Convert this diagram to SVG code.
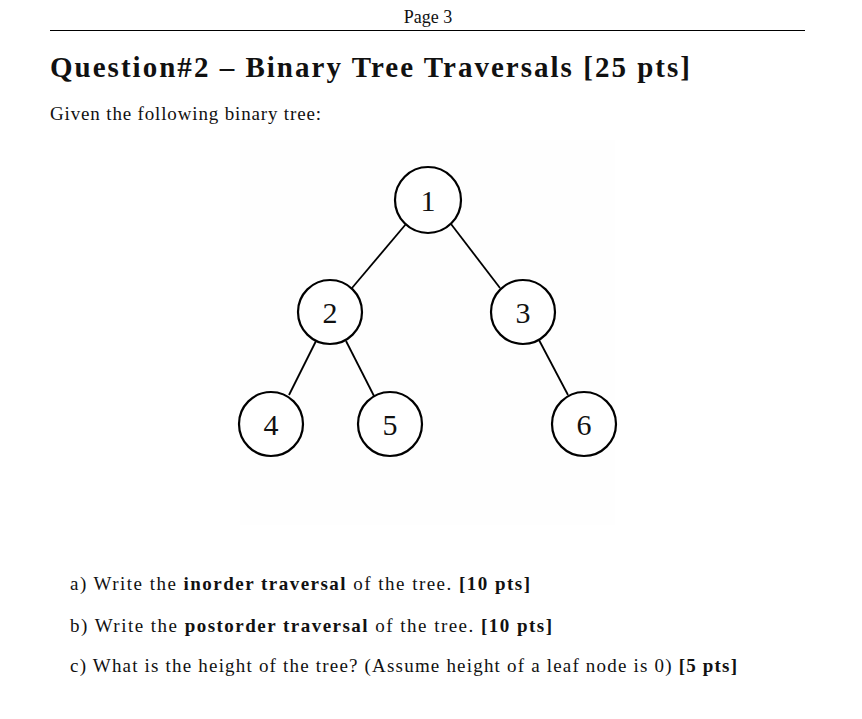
<svg xmlns="http://www.w3.org/2000/svg" width="862" height="719" viewBox="0 0 862 719">
<style>
text{font-family:"Liberation Serif","DejaVu Serif",serif;fill:#111}
.n circle{fill:#fff;stroke:#000;stroke-width:2.2}
.n text{font-size:30px;text-anchor:middle}
.e line{stroke:#000;stroke-width:1.8}
.q{font-size:19px}
</style>
<rect width="862" height="719" fill="#fff"/>
<rect x="240" y="140" width="375" height="385" fill="#fefefe"/>
<text x="428" y="23" font-size="18" text-anchor="middle">Page 3</text>
<line x1="50" y1="30.5" x2="805" y2="30.5" stroke="#000" stroke-width="1"/>
<text x="50" y="77" font-size="29" font-weight="bold" textLength="640" lengthAdjust="spacing">Question#2 – Binary Tree Traversals [25 pts]</text>
<text x="50" y="120" font-size="19" textLength="271" lengthAdjust="spacing">Given the following binary tree:</text>
<g id="connectors" class="e">
<line x1="406" y1="224" x2="352" y2="288"/>
<line x1="451" y1="224" x2="500" y2="288"/>
<line x1="316" y1="341" x2="289" y2="395"/>
<line x1="346" y1="341" x2="374" y2="396"/>
<line x1="539" y1="340" x2="568" y2="395"/>
</g>
<g id="n1" class="n"><circle cx="428" cy="200" r="33"/><text x="428" y="211">1</text></g>
<g id="n2" class="n"><circle cx="330" cy="312" r="32"/><text x="330" y="323">2</text></g>
<g id="n3" class="n"><circle cx="523" cy="312" r="32"/><text x="523" y="323">3</text></g>
<g id="n4" class="n"><circle cx="271" cy="424" r="32"/><text x="271" y="435">4</text></g>
<g id="n5" class="n"><circle cx="390" cy="424" r="32"/><text x="390" y="435">5</text></g>
<g id="n6" class="n"><circle cx="584" cy="424" r="32"/><text x="584" y="435">6</text></g>
<text class="q" x="70" y="590" textLength="460" lengthAdjust="spacing">a) Write the <tspan font-weight="bold">inorder traversal</tspan> of the tree. <tspan font-weight="bold">[10 pts]</tspan></text>
<text class="q" x="70" y="632" textLength="482" lengthAdjust="spacing">b) Write the <tspan font-weight="bold">postorder traversal</tspan> of the tree. <tspan font-weight="bold">[10 pts]</tspan></text>
<text class="q" x="70" y="672" textLength="667" lengthAdjust="spacing">c) What is the height of the tree? (Assume height of a leaf node is 0) <tspan font-weight="bold">[5 pts]</tspan></text>
</svg>
